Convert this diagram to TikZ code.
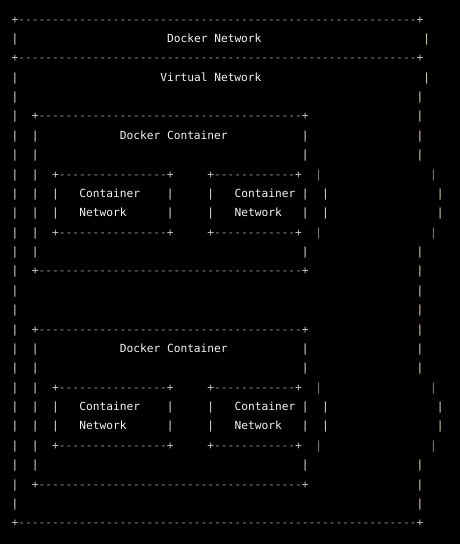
\documentclass[tikz,border=0pt]{standalone}
\usepackage{fontspec}
\setmonofont{DejaVu Sans Mono}
\definecolor{termbg}{HTML}{000000}
\definecolor{termtext}{HTML}{F2F4F5}
\definecolor{dashgray}{HTML}{969696}
\definecolor{plusgray}{HTML}{C0C0C0}
\definecolor{pipewhite}{HTML}{E6E6E6}
\definecolor{pipeyellow}{HTML}{EEE0A8}
\definecolor{pipedim}{HTML}{948474}

\begin{document}
\begin{tikzpicture}[x=6.75pt,y=-19.38pt,
    glyph/.style={font=\ttfamily\fontsize{11.2}{13}\selectfont,inner sep=0pt,anchor=base,yshift=-5pt},
    dashchar/.style={glyph,text=dashgray},
    pluschar/.style={glyph,text=plusgray},
    pipechar/.style={glyph,text=pipewhite},
    edgepipe/.style={glyph,text=pipeyellow},
    dimpipe/.style={glyph,text=pipedim},
    label/.style={glyph,anchor=base west,xshift=-3.375pt,text=termtext}]

    % Background of the terminal
    \fill[termbg] (-15pt,18pt) rectangle (445pt,-526pt);

    % Outer border rows
    \foreach \r in {0,2,26} {
      \node[pluschar] (pl\r) at (0,\r) {+};
      \foreach \c in {1,...,59}
        \node[dashchar] (d\r-\c) at (\c,\r) {-};
      \node[pluschar] (pr\r) at (60,\r) {+};
    }

    % Left edge
    \foreach \r in {1,3,4,...,25}
      \node[pipechar] (e\r) at (0,\r) {|};

    % Right edge, as it is printed
    \foreach \r in {1,3}
      \node[edgepipe] (f\r) at (61,\r) {|};
    \foreach \r in {4,5,6,7,12,13,14,15,16,17,18,23,24,25}
      \node[edgepipe] (f\r) at (60,\r) {|};

    % Titles
    \node[label] (docknet) at (23,1) {Docker Network};
    \node[label] (virtnet) at (22,3) {Virtual Network};

    % The two containers
    \foreach \o/\k in {5/1,16/2} {
      \node[pluschar] (ctl\k) at (3,\o) {+};
      \foreach \c in {4,...,42}
        \node[dashchar] (ct\k-\c) at (\c,\o) {-};
      \node[pluschar] (ctr\k) at (43,\o) {+};
      \foreach \i in {1,...,7}
        \node[pipechar] (cl\k-\i) at (3,\o+\i) {|};
      \foreach \i in {1,2,7}
        \node[pipechar] (cr\k-\i) at (43,\o+\i) {|};
      \node[label] (title\k) at (16,\o+1) {Docker Container};

      % network boxes
      \foreach \i in {3,6} {
        \node[pluschar] (na\k-\i) at (6,\o+\i) {+};
        \foreach \c in {7,...,22}
          \node[dashchar] (nad\k-\i-\c) at (\c,\o+\i) {-};
        \node[pluschar] (nb\k-\i) at (23,\o+\i) {+};
        \node[pluschar] (nc\k-\i) at (29,\o+\i) {+};
        \foreach \c in {30,...,41}
          \node[dashchar] (ncd\k-\i-\c) at (\c,\o+\i) {-};
        \node[pluschar] (nd\k-\i) at (42,\o+\i) {+};
        \node[dimpipe] (ne\k-\i) at (45,\o+\i) {|};
        \node[dimpipe] (nf\k-\i) at (62,\o+\i) {|};
      }
      \foreach \i/\word in {4/Container,5/Network} {
        \foreach \c in {6,23,29,43,46}
          \node[pipechar] (np\k-\i-\c) at (\c,\o+\i) {|};
        \node[label] (left\k-\i) at (10,\o+\i) {\word};
        \node[label] (right\k-\i) at (33,\o+\i) {\word};
        \node[edgepipe] (ng\k-\i) at (63,\o+\i) {|};
      }

      % bottom of the container
      \node[pluschar] (cbl\k) at (3,\o+8) {+};
      \foreach \c in {4,...,42}
        \node[dashchar] (cb\k-\c) at (\c,\o+8) {-};
      \node[pluschar] (cbr\k) at (43,\o+8) {+};
    }

\end{tikzpicture}
\end{document}
